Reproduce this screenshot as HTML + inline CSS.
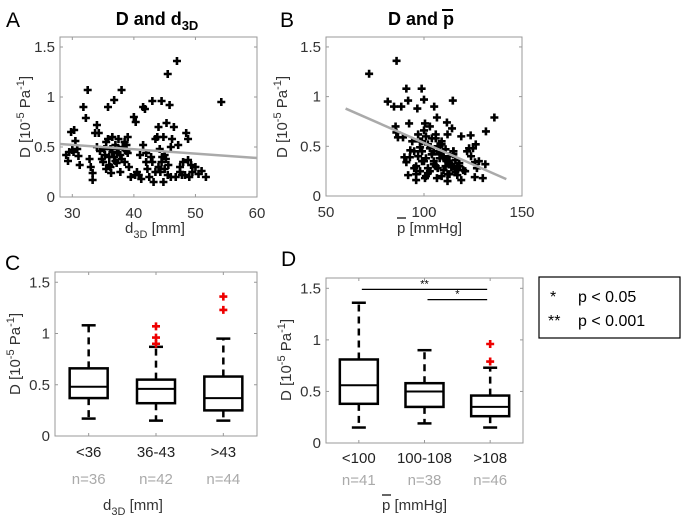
<!DOCTYPE html>
<html><head><meta charset="utf-8"><style>
html,body{margin:0;padding:0;background:#fff;}
svg{display:block;font-family:"Liberation Sans",sans-serif;}
</style></head><body>
<svg id="fig" width="685" height="525" viewBox="0 0 685 525" xmlns="http://www.w3.org/2000/svg">
<g id="root"></g>
</svg>
<script>
// ---------- data ----------
const scatterA_x=[29.0,29.3,29.5,29.8,30.3,30.0,30.5,30.2,31.0,31.2,31.8,32.2,32.5,32.8,33.0,33.3,33.3,33.7,34.0,34.3,34.0,34.5,35.0,35.3,35.5,35.5,35.8,36.0,36.2,36.3,36.5,36.8,36.8,37.0,37.2,37.3,37.5,37.8,38.0,38.0,38.2,38.5,38.8,39.0,39.2,39.5,40.0,40.3,40.5,40.8,41.0,41.2,41.5,41.8,41.5,42.0,42.2,42.5,42.8,43.0,43.2,43.5,43.5,43.8,44.0,44.2,44.3,44.5,44.5,44.8,44.8,45.0,45.2,45.3,45.5,45.5,45.8,46.0,46.2,46.5,46.8,47.0,47.2,47.5,47.8,48.0,48.3,48.5,48.8,48.8,49.0,49.3,49.5,50.0,50.5,51.0,51.7,54.2,35.2,36.0,37.0,38.5,39.0,35.8,37.5,30.8,43.0,44.0,45.0,46.0,47.5,36.5,37.8,34.8,36.2,38.8,42.0,44.6,45.6,40.2];
const scatterA_y=[0.42,0.36,0.45,0.65,0.67,0.47,0.56,0.45,0.41,0.32,0.90,0.79,1.07,0.38,0.30,0.24,0.17,0.64,0.72,0.64,0.50,0.46,0.35,0.42,0.28,0.55,0.90,0.32,0.48,0.24,0.60,0.97,0.40,0.52,0.34,0.44,0.58,0.25,0.38,1.07,0.50,0.55,0.46,0.60,0.30,0.20,0.80,0.75,0.25,0.22,0.42,0.18,0.90,0.88,0.52,0.35,0.28,0.20,0.40,0.96,0.15,0.25,0.58,0.60,0.70,0.48,0.25,0.35,0.96,0.15,0.60,0.42,0.38,0.74,0.22,1.23,0.92,0.50,0.58,0.70,0.20,1.36,0.52,0.30,0.22,0.35,0.22,0.64,0.58,0.37,0.20,0.32,0.25,0.30,0.23,0.26,0.20,0.95,0.48,0.40,0.36,0.35,0.44,0.58,0.48,0.48,0.35,0.30,0.28,0.20,0.25,0.45,0.42,0.38,0.30,0.52,0.44,0.40,0.32,0.22];
const fitA_x=[28,60];
const fitA_y=[0.53,0.39];
const scatterB_x=[72,86,81.5,84.7,88.4,91,91.9,98.8,100,96.6,105.2,114.7,85.5,85.9,86.7,89.3,92.4,100.5,106.6,111.7,114.3,123.8,126.4,131.6,135.9,131.3,130,125.9,119,112,106.6,100.5,96,91.9,91,92.8,98,95,97,99,101,102,103,104,105,106,107,108,109,110,111,112,113,114,115,116,117,118,96,98,100,102,104,106,108,110,112,114,116,94,97,99,101,103,105,107,109,111,113,115,117,100,103,106,109,112,115,118,121,124,127,122,125,128,93,95,98,101,104,107,110,113,116,99,102,105,108,111,114,117,90,120,123,126,96,108,119];
const scatterB_y=[1.23,1.36,0.95,0.90,0.90,1.08,0.96,1.08,0.97,0.88,0.90,0.96,0.70,0.64,0.59,0.59,0.73,0.73,0.79,0.74,0.68,0.61,0.52,0.65,0.79,0.32,0.18,0.19,0.16,0.15,0.18,0.18,0.16,0.21,0.34,0.39,0.49,0.45,0.40,0.55,0.60,0.52,0.48,0.58,0.45,0.62,0.50,0.42,0.55,0.38,0.47,0.35,0.40,0.30,0.45,0.36,0.28,0.33,0.30,0.25,0.35,0.28,0.42,0.30,0.38,0.26,0.22,0.32,0.24,0.55,0.62,0.45,0.38,0.25,0.35,0.28,0.20,0.30,0.22,0.42,0.26,0.66,0.70,0.58,0.52,0.62,0.45,0.30,0.25,0.40,0.28,0.45,0.48,0.35,0.46,0.28,0.55,0.20,0.42,0.50,0.40,0.33,0.27,0.35,0.23,0.32,0.44,0.37,0.29,0.21,0.39,0.26,0.48,0.34,0.22,0.50,0.60,0.38,0.67,0.82,0.47];
const fitB_x=[60,142];
const fitB_y=[0.88,0.17];
const boxC_labels=["<36","36-43",">43"];
const boxC_n=["n=36","n=42","n=44"];
const boxC_low=[0.17,0.15,0.15];
const boxC_q1=[0.37,0.32,0.25];
const boxC_med=[0.48,0.46,0.37];
const boxC_q3=[0.66,0.55,0.58];
const boxC_high=[1.08,0.87,0.95];
const boxC_outliers=[[],[0.90,0.96,1.07],[1.23,1.36]];
const boxD_labels=["<100","100-108",">108"];
const boxD_n=["n=41","n=38","n=46"];
const boxD_low=[0.15,0.19,0.15];
const boxD_q1=[0.38,0.35,0.26];
const boxD_med=[0.56,0.50,0.35];
const boxD_q3=[0.81,0.58,0.46];
const boxD_high=[1.36,0.90,0.73];
const boxD_outliers=[[],[],[0.79,0.96]];
const sigD_from=[1,2];
const sigD_to=[3,3];
const sigD_y=[1.49,1.39];
const sigD_text=["**","*"];
const yTicks=[0,0.5,1,1.5];
const yTickLabels=["0","0.5","1","1.5"];
const xTicksA=[30,40,50,60];
const xTicksB=[50,100,150];

// ---------- helpers ----------
const NS="http://www.w3.org/2000/svg";
const root=document.getElementById('root');
function mk(tag,attrs,parent,text){const e=document.createElementNS(NS,tag);for(const k in attrs)e.setAttribute(k,attrs[k]);if(text!==undefined)e.textContent=text;(parent||root).appendChild(e);return e;}
function lin(d0,d1,r0,r1){return v=>r0+(v-d0)*(r1-r0)/(d1-d0);}

function axesBox(g,L,R,T,B,sy,xt,sx){
  const fr=mk('rect',{x:L,y:T,width:R-L,height:B-T,fill:'none',stroke:'#999','stroke-width':1},g);
  
  
  yTicks.forEach((v,i)=>{
    const y=sy(v);
    mk('line',{x1:L,x2:L+3,y1:y,y2:y,stroke:'#999'},g);
    mk('line',{x1:R,x2:R-3,y1:y,y2:y,stroke:'#999'},g);
    const t=mk('text',{x:L-5,y:y+5,'text-anchor':'end','font-size':15,fill:'#333'},g,yTickLabels[i]);
    
    
  });
  if(xt){xt.forEach(v=>{const x=sx(v);
    mk('line',{x1:x,x2:x,y1:B,y2:B-3,stroke:'#999'},g);
    mk('line',{x1:x,x2:x,y1:T,y2:T+3,stroke:'#999'},g);
    const t=mk('text',{x:x,y:B+21,'text-anchor':'middle','font-size':15,fill:'#333'},g,String(v));
    
    
  });}
}
function yLabel(g,x,y){
  const t=mk('text',{transform:`translate(${x},${y}) rotate(-90)`,'text-anchor':'middle','font-size':15,fill:'#333'},g);
  
  
  mk('tspan',{},t,'D [10');
  mk('tspan',{dy:-6,'font-size':11},t,'-5');
  mk('tspan',{dy:6},t,' Pa');
  mk('tspan',{dy:-6,'font-size':11},t,'-1');
  mk('tspan',{dy:6},t,']');
}
function plus(g,x,y,color,s){
  const p=mk('path',{d:`M${x-s},${y}H${x+s}M${x},${y-s}V${y+s}`,stroke:color,'stroke-width':2.6,fill:'none'},g);
  return p;
}
function letter(x,y,t){const e=mk('text',{x:x,y:y,'font-size':21,fill:'#000'},root,t);}

// ---------- Panel A ----------
(function(){
  const g=mk('g',{});
  const L=60,R=257,T=37,B=197;
  const sx=lin(28,60,L,R), sy=lin(0,1.6,B,T);
  axesBox(g,L,R,T,B,sy,xTicksA,sx);
  scatterA_x.forEach((v,i)=>{const p=plus(g,sx(v),sy(scatterA_y[i]),'#000',4);});
  const f=mk('line',{x1:sx(fitA_x[0]),y1:sy(fitA_y[0]),x2:sx(fitA_x[1]),y2:sy(fitA_y[1]),stroke:'#aaa','stroke-width':2.5},g);
  
  yLabel(g,30,117);
  const t=mk('text',{x:157,y:25,'text-anchor':'middle','font-size':18,'font-weight':'bold',fill:'#000'},g);
  
  mk('tspan',{},t,'D and d');mk('tspan',{dy:5,'font-size':13},t,'3D');
  const xl=mk('text',{x:125,y:233,'font-size':15,fill:'#333'},g);
  
  mk('tspan',{},xl,'d');mk('tspan',{dy:5,'font-size':11},xl,'3D');mk('tspan',{dy:-5},xl,' [mm]');
})();
letter(6,27,'A');

// ---------- Panel B ----------
(function(){
  const g=mk('g',{});
  const L=326,R=522,T=37,B=196;
  const sx=lin(50,150,L,R), sy=lin(0,1.6,B,T);
  axesBox(g,L,R,T,B,sy,xTicksB,sx);
  scatterB_x.forEach((v,i)=>{const p=plus(g,sx(v),sy(scatterB_y[i]),'#000',4);});
  const f=mk('line',{x1:sx(fitB_x[0]),y1:sy(fitB_y[0]),x2:sx(fitB_x[1]),y2:sy(fitB_y[1]),stroke:'#aaa','stroke-width':2.5},g);
  
  yLabel(g,287,117);
  const t=mk('text',{x:388,y:25,'font-size':18,'font-weight':'bold',fill:'#000'},g,'D and p');
  
  mk('line',{x1:442,x2:453,y1:10,y2:10,stroke:'#000','stroke-width':2},g);
  const xl=mk('text',{x:397,y:233,'font-size':15,fill:'#333'},g,'p  [mmHg]');
  
  mk('line',{x1:397,x2:406,y1:218,y2:218,stroke:'#333','stroke-width':1.5},g);
})();
letter(280,27,'B');

// ---------- Box panels ----------
function boxPanel(name,L,R,T,B,low,q1,med,q3,high,outl,labels,ns,tickY,nY){
  const g=mk('g',{});
  const sx=lin(0.5,3.5,L,R), sy=lin(0,1.6,B,T);
  axesBox(g,L,R,T,B,sy,null,null);
  const hw=19, cw=7;
  labels.forEach((lab,i)=>{
    const x=sx(i+1);
    mk('line',{x1:x,x2:x,y1:B,y2:B-3,stroke:'#999'},g);
    mk('line',{x1:x,x2:x,y1:T,y2:T+3,stroke:'#999'},g);
    const bg=mk('g',{},g);
    mk('line',{x1:x,x2:x,y1:sy(q3[i]),y2:sy(high[i]),stroke:'#000','stroke-width':2.5,'stroke-dasharray':'7,5'},bg);
    mk('line',{x1:x,x2:x,y1:sy(q1[i]),y2:sy(low[i]),stroke:'#000','stroke-width':2.5,'stroke-dasharray':'7,5'},bg);
    mk('line',{x1:x-cw,x2:x+cw,y1:sy(high[i]),y2:sy(high[i]),stroke:'#000','stroke-width':2.5},bg);
    mk('line',{x1:x-cw,x2:x+cw,y1:sy(low[i]),y2:sy(low[i]),stroke:'#000','stroke-width':2.5},bg);
    mk('rect',{x:x-hw,y:sy(q3[i]),width:2*hw,height:sy(q1[i])-sy(q3[i]),fill:'#fff',stroke:'#000','stroke-width':2.5},bg);
    mk('line',{x1:x-hw,x2:x+hw,y1:sy(med[i]),y2:sy(med[i]),stroke:'#000','stroke-width':2},bg);
    outl[i].forEach(v=>{const p=plus(bg,x,sy(v),'#e00',4);});
    const t=mk('text',{x:x,y:tickY,'text-anchor':'middle','font-size':15,fill:'#222'},g,lab);
    
    const n=mk('text',{x:x,y:nY,'text-anchor':'middle','font-size':15,fill:'#aaa'},g,ns[i]);
    
  });
  return {g,sx,sy};
}
(function(){
  const r=boxPanel('panel-c-boxplot',55,257,272,436,boxC_low,boxC_q1,boxC_med,boxC_q3,boxC_high,boxC_outliers,boxC_labels,boxC_n,457,484);
  yLabel(r.g,20,354);
  const xl=mk('text',{x:103,y:510,'font-size':15,fill:'#333'},r.g);
  
  mk('tspan',{},xl,'d');mk('tspan',{dy:5,'font-size':11},xl,'3D');mk('tspan',{dy:-5},xl,' [mm]');
})();
letter(5,270,'C');
(function(){
  const r=boxPanel('panel-d-boxplot',326,523,278,443,boxD_low,boxD_q1,boxD_med,boxD_q3,boxD_high,boxD_outliers,boxD_labels,boxD_n,463,485);
  yLabel(r.g,291,360);
  sigD_y.forEach((v,i)=>{
    const y=r.sy(v);
    const l=mk('line',{x1:r.sx(sigD_from[i])+3,x2:r.sx(sigD_to[i])-3,y1:y,y2:y,stroke:'#000','stroke-width':1.2},r.g);
    
    const t=mk('text',{x:(r.sx(sigD_from[i])+r.sx(sigD_to[i]))/2,y:y-2,'text-anchor':'middle','font-size':11,fill:'#000'},r.g,sigD_text[i]);
    
  });
  const xl=mk('text',{x:382,y:510,'font-size':15,fill:'#333'},r.g,'p  [mmHg]');
  
  mk('line',{x1:382,x2:391,y1:495,y2:495,stroke:'#333','stroke-width':1.5},r.g);
})();
letter(281,266,'D');

// ---------- Legend ----------
(function(){
  const g=mk('g',{});
  mk('rect',{x:539,y:277,width:141,height:61,fill:'#fff',stroke:'#000','stroke-width':1.2},g);
  mk('text',{x:550,y:302,'font-size':16,fill:'#000'},g,'*');
  mk('text',{x:578,y:302,'font-size':16,fill:'#000'},g,'p < 0.05');
  mk('text',{x:548,y:326,'font-size':16,fill:'#000'},g,'**');
  mk('text',{x:578,y:326,'font-size':16,fill:'#000'},g,'p < 0.001');
})();
</script>
</body></html>
